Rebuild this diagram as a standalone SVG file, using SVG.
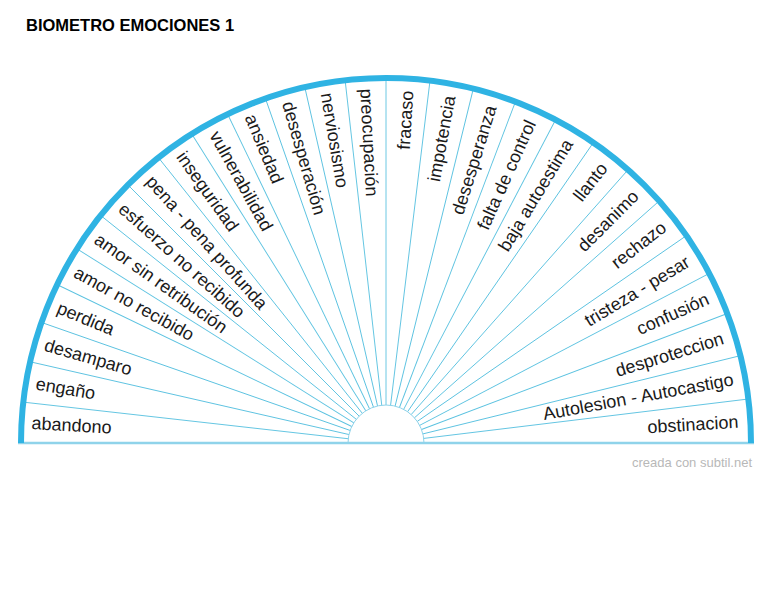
<svg xmlns="http://www.w3.org/2000/svg" width="768" height="594" viewBox="0 0 768 594">
<style>
.r{stroke:#5bc2e0;stroke-width:0.9}
.l{font-family:"Liberation Sans",Arial,sans-serif;font-size:18px;fill:#1a1a1a}
.e{text-anchor:end}
</style>
<rect width="768" height="594" fill="#fff"/>
<text x="26" y="31" font-family="Liberation Sans,Arial,sans-serif" font-weight="bold" font-size="16.5" fill="#000">BIOMETRO EMOCIONES 1</text>
<g id="connectors" transform="translate(386,443)">
<g class="r">
<line x1="38" x2="363" transform="rotate(-173.571)"/><line x1="38" x2="363" transform="rotate(-167.143)"/><line x1="38" x2="363" transform="rotate(-160.714)"/><line x1="38" x2="363" transform="rotate(-154.286)"/><line x1="38" x2="363" transform="rotate(-147.857)"/><line x1="38" x2="363" transform="rotate(-141.429)"/><line x1="38" x2="363" transform="rotate(-135)"/><line x1="38" x2="363" transform="rotate(-128.571)"/><line x1="38" x2="363" transform="rotate(-122.143)"/><line x1="38" x2="363" transform="rotate(-115.714)"/><line x1="38" x2="363" transform="rotate(-109.286)"/><line x1="38" x2="363" transform="rotate(-102.857)"/><line x1="38" x2="363" transform="rotate(-96.429)"/><line x1="38" x2="363" transform="rotate(-90)"/>
<line x1="38" x2="363" transform="rotate(-83.077)"/><line x1="38" x2="363" transform="rotate(-76.154)"/><line x1="38" x2="363" transform="rotate(-69.231)"/><line x1="38" x2="363" transform="rotate(-62.308)"/><line x1="38" x2="363" transform="rotate(-55.385)"/><line x1="38" x2="363" transform="rotate(-48.462)"/><line x1="38" x2="363" transform="rotate(-41.538)"/><line x1="38" x2="363" transform="rotate(-34.615)"/><line x1="38" x2="363" transform="rotate(-27.692)"/><line x1="38" x2="363" transform="rotate(-20.769)"/><line x1="38" x2="363" transform="rotate(-13.846)"/><line x1="38" x2="363" transform="rotate(-6.923)"/>
</g>
<line x1="-368" y1="0" x2="368" y2="0" stroke="#8fd3ea" stroke-width="2.5"/>
<path d="M-38,0 A38,38 0 0 1 38,0" fill="none" stroke="#8fd3ea" stroke-width="1"/>
<path d="M-365,0 A365,365 0 0 1 365,0" fill="none" stroke="#2fb3e3" stroke-width="6"/>
</g>
<g id="labels" transform="translate(386,443)">
<g id="n-abandono" transform="rotate(3.21)"><text class="l" x="-355" dy="6">abandono</text></g>
<g id="n-engano" transform="rotate(9.64)"><text class="l" x="-355" dy="6">engaño</text></g>
<g id="n-desamparo" transform="rotate(16.07)"><text class="l" x="-355" dy="6">desamparo</text></g>
<g id="n-perdida" transform="rotate(22.5)"><text class="l" x="-355" dy="6">perdida</text></g>
<g id="n-amor-no" transform="rotate(28.93)"><text class="l" x="-355" dy="6">amor no recibido</text></g>
<g id="n-amor-sin" transform="rotate(35.36)"><text class="l" x="-355" dy="6">amor sin retribución</text></g>
<g id="n-esfuerzo" transform="rotate(41.79)"><text class="l" x="-355" dy="6">esfuerzo no recibido</text></g>
<g id="n-pena" transform="rotate(48.21)"><text class="l" x="-355" dy="6">pena - pena profunda</text></g>
<g id="n-inseguridad" transform="rotate(54.64)"><text class="l" x="-355" dy="6">inseguridad</text></g>
<g id="n-vulnerabilidad" transform="rotate(61.07)"><text class="l" x="-355" dy="6">vulnerabilidad</text></g>
<g id="n-ansiedad" transform="rotate(67.5)"><text class="l" x="-355" dy="6">ansiedad</text></g>
<g id="n-desesperacion" transform="rotate(73.93)"><text class="l" x="-355" dy="6">desesperación</text></g>
<g id="n-nerviosismo" transform="rotate(80.36)"><text class="l" x="-355" dy="6">nerviosismo</text></g>
<g id="n-preocupacion" transform="rotate(86.79)"><text class="l" x="-355" dy="6">preocupación</text></g>
<g id="n-fracaso" transform="rotate(-86.54)"><text class="l e" x="353" dy="6">fracaso</text></g>
<g id="n-impotencia" transform="rotate(-79.62)"><text class="l e" x="353" dy="6">impotencia</text></g>
<g id="n-desesperanza" transform="rotate(-72.69)"><text class="l e" x="353" dy="6">desesperanza</text></g>
<g id="n-falta" transform="rotate(-65.77)"><text class="l e" x="353" dy="6">falta de control</text></g>
<g id="n-baja" transform="rotate(-58.85)"><text class="l e" x="353" dy="6">baja autoestima</text></g>
<g id="n-llanto" transform="rotate(-51.92)"><text class="l e" x="353" dy="6">llanto</text></g>
<g id="n-desanimo" transform="rotate(-45)"><text class="l e" x="353" dy="6">desanimo</text></g>
<g id="n-rechazo" transform="rotate(-38.08)"><text class="l e" x="353" dy="6">rechazo</text></g>
<g id="n-tristeza" transform="rotate(-31.15)"><text class="l e" x="353" dy="6">tristeza  - pesar</text></g>
<g id="n-confusion" transform="rotate(-24.23)"><text class="l e" x="353" dy="6">confusión</text></g>
<g id="n-desproteccion" transform="rotate(-17.31)"><text class="l e" x="353" dy="6">desproteccion</text></g>
<g id="n-autolesion" transform="rotate(-10.38)"><text class="l e" x="353" dy="6">Autolesion - Autocastigo</text></g>
<g id="n-obstinacion" transform="rotate(-3.46)"><text class="l e" x="353" dy="6">obstinacion</text></g>
</g>
<text x="752" y="467" text-anchor="end" font-family="Liberation Sans,Arial,sans-serif" font-size="13" fill="#b8b8b8">creada con subtil.net</text>
</svg>
